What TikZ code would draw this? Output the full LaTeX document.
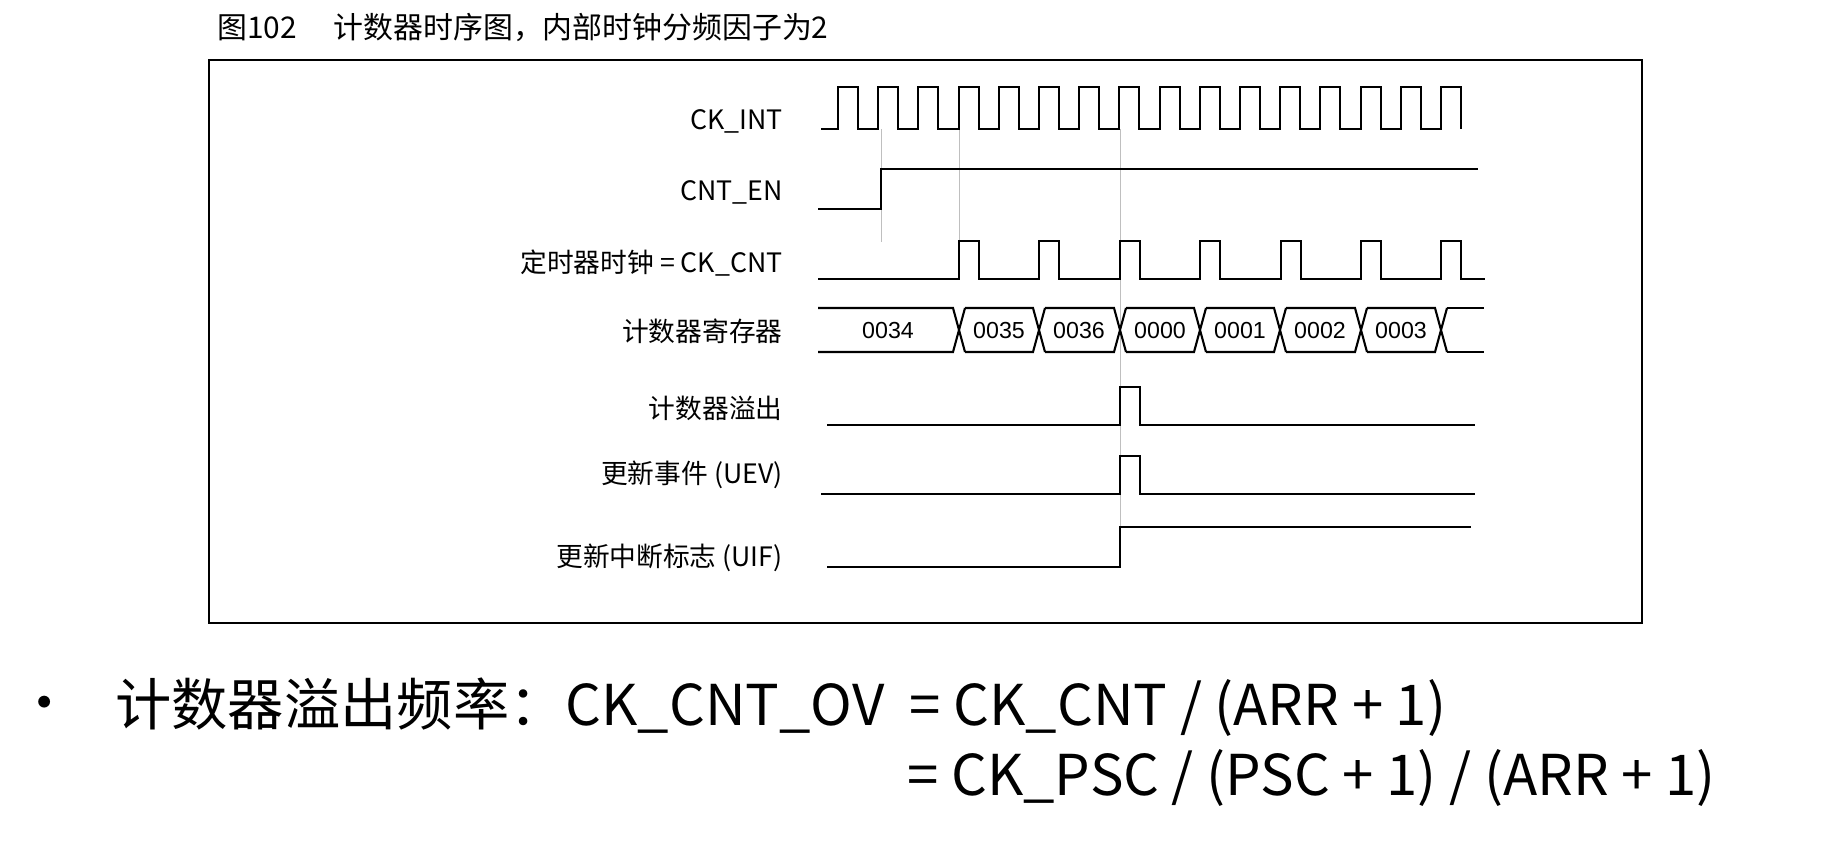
\documentclass[tikz,border=0pt]{standalone}
\usepackage{fontspec}
\setmainfont{Noto Sans CJK SC}
\newfontfamily\labelfont{Liberation Sans}
\tikzset{
    wave/.style={semithick},
    guide/.style={very thin, color=gray!50},
    sig/.style={anchor=east, font=\fontsize{7.6}{8}\selectfont},
    val/.style={font=\labelfont\fontsize{6.6}{7}\selectfont},
}
\begin{document}
\begin{tikzpicture}[x=0.01cm,y=-0.01cm]
    \useasboundingbox (0,0) rectangle (1830,847);
    \node[anchor=west, font=\fontsize{8.5}{9}\selectfont] (title) at (205,27) {图102\quad\ 计数器时序图，内部时钟分频因子为2};
    \draw[thin] (209,60) rectangle (1642,623);

    % guide lines
    \draw[guide] (881,129) -- (881,242);
    \draw[guide] (959,129) -- (959,279);
    \draw[guide] (1120,129) -- (1120,527);

    % CK_INT
    \node[sig] (ckint) at (795,121) {CK\_INT};
    \draw[wave] (821,129) -- (838,129)
    \foreach \i in {0,...,14} { -- ++(0,-42) -- ++(20,0) -- ++(0,42) -- ++(20.2,0) }
        -- ++(0,-42) -- ++(20,0) -- ++(0,42);

    % CNT_EN
    \node[sig] (cnten) at (795,192) {CNT\_EN};
    \draw[wave] (818,209) -- (881,209) -- (881,169) -- (1478,169);

    % CK_CNT
    \node[sig] (ckcnt) at (795,263) {定时器时钟 = CK\_CNT};
    \draw[wave] (818,279) -- (959,279)
    \foreach \i in {0,...,5} { -- ++(0,-38) -- ++(20,0) -- ++(0,38) -- ++(60.4,0) }
        -- ++(0,-38) -- ++(20,0) -- ++(0,38) -- ++(24,0);

    % counter register
    \node[sig] (cntreg) at (795,331) {计数器寄存器};
    \draw[wave] (818,308) -- (953,308) -- (965,352);
    \draw[wave] (818,352) -- (953,352) -- (965,308);
    \foreach \a/\b in {959/1039,1039/1120,1120/1200,1200/1280,1280/1361,1361/1441}
        \draw[wave] (\a+6,308) -- (\b-6,308) -- (\b+6,352) (\a+6,352) -- (\b-6,352) -- (\b+6,308);
    \draw[wave] (1447,308) -- (1484,308) (1447,352) -- (1484,352);
    \foreach \x/\v in {888/0034,999/0035,1079/0036,1160/0000,1240/0001,1320/0002,1401/0003}
        \node[val] (r\v) at (\x,330) {\v};

    % overflow
    \node[sig] (ovf) at (795,408) {计数器溢出};
    \draw[wave] (827,425) -- (1120,425) -- (1120,387) -- (1140,387) -- (1140,425) -- (1475,425);

    % UEV
    \node[sig] (uev) at (795,475) {更新事件 (UEV)};
    \draw[wave] (821,494) -- (1120,494) -- (1120,456) -- (1140,456) -- (1140,494) -- (1475,494);

    % UIF
    \node[sig] (uif) at (795,558) {更新中断标志 (UIF)};
    \draw[wave] (827,567) -- (1120,567) -- (1120,527) -- (1471,527);

    % formula
    \node[font=\fontsize{16}{18}\selectfont] (dot) at (45,710) {•};
    \node[anchor=base west, font=\fontsize{16}{18}\selectfont] (line1) at (103,725) {计数器溢出频率：CK\_CNT\_OV \ = CK\_CNT / (ARR + 1)};
    \node[anchor=base west, font=\fontsize{16}{18}\selectfont] (line2) at (895,795) {= CK\_PSC / (PSC + 1) / (ARR + 1)};
\end{tikzpicture}
\end{document}
